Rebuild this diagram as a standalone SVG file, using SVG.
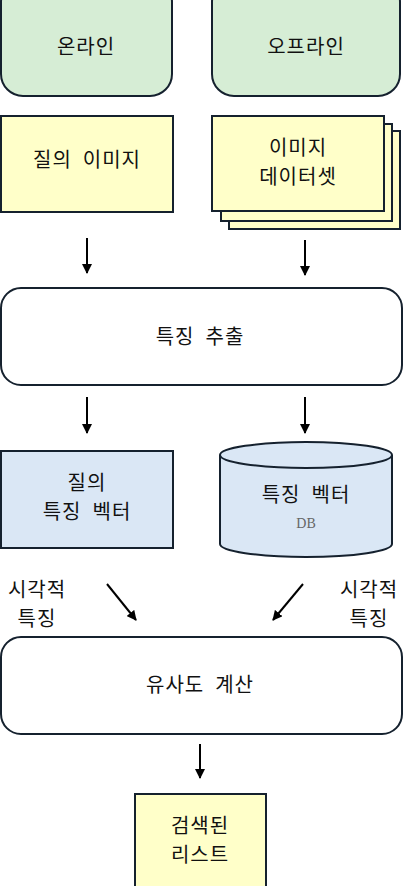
<svg xmlns="http://www.w3.org/2000/svg" width="404" height="886" viewBox="0 0 404 886">
<style>
.box{stroke:#15212e;stroke-width:2}
.green{fill:#d6edd5}
.yellow{fill:#ffffc9}
.blue{fill:#dae7f5}
.white{fill:#ffffff}
text{font-family:"Noto Sans CJK KR","DejaVu Sans",sans-serif;font-size:20px;letter-spacing:1px;fill:#111;text-anchor:middle;white-space:pre}
.conn{stroke:#000;stroke-width:2;fill:none;marker-end:url(#ah)}
</style>
<defs>
<marker id="ah" viewBox="0 0 10 10" refX="9" refY="5" markerWidth="5" markerHeight="5" orient="auto" markerUnits="strokeWidth">
<path d="M0,0 L10,5 L0,10 z" fill="#000"/>
</marker>
</defs>
<rect width="404" height="886" fill="#fff"/>
<g id="online">
<rect class="box green" x="1" y="-20" width="171" height="116" rx="22"/>
<text x="86" y="54">온라인</text>
</g>
<g id="offline">
<rect class="box green" x="212" y="-20" width="188" height="116" rx="22"/>
<text x="306" y="54">오프라인</text>
</g>
<g id="query-image">
<rect class="box yellow" x="1" y="116" width="172" height="96"/>
<text x="87" y="167" xml:space="preserve">질의  이미지</text>
</g>
<g id="image-dataset">
<rect class="box yellow" x="229" y="131" width="171" height="98"/>
<rect class="box yellow" x="221" y="124" width="171" height="97"/>
<rect class="box yellow" x="212" y="116" width="172" height="95"/>
<text x="298" y="155">이미지</text>
<text x="298" y="184">데이터셋</text>
</g>
<g id="feature-extraction">
<rect class="box white" x="1" y="288" width="401" height="97" rx="20"/>
<text x="200" y="344" xml:space="preserve">특징  추출</text>
</g>
<g id="query-feature">
<rect class="box blue" x="1" y="451" width="172" height="97"/>
<text x="87" y="490">질의</text>
<text x="87" y="519" xml:space="preserve">특징  벡터</text>
</g>
<g id="feature-db">
<path class="box blue" d="M220,455 A86,13 0 0 1 392,455 V544 A86,13 0 0 1 220,544 Z"/>
<path class="box" fill="none" d="M220,455 A86,13 0 0 0 392,455"/>
<text x="306" y="502" xml:space="preserve">특징  벡터</text>
<text x="306" y="528" style="font-size:14px;fill:#666;letter-spacing:0;font-family:'Liberation Serif',serif">DB</text>
</g>
<g id="labels">
<text x="37" y="597">시각적</text>
<text x="37" y="626">특징</text>
<text x="369" y="597">시각적</text>
<text x="369" y="626">특징</text>
</g>
<g id="similarity">
<rect class="box white" x="1" y="637" width="401" height="97" rx="20"/>
<text x="200" y="692" xml:space="preserve">유사도  계산</text>
</g>
<g id="result">
<rect class="box yellow" x="135" y="794" width="131" height="100"/>
<text x="200" y="833">검색된</text>
<text x="200" y="862">리스트</text>
</g>
<g id="connectors">
<line class="conn" x1="87" y1="238" x2="87" y2="273"/>
<line class="conn" x1="305" y1="240" x2="305" y2="275"/>
<line class="conn" x1="87" y1="397" x2="87" y2="433"/>
<line class="conn" x1="305" y1="397" x2="305" y2="433"/>
<line class="conn" x1="107" y1="584" x2="136" y2="620"/>
<line class="conn" x1="303" y1="584" x2="273" y2="620"/>
<line class="conn" x1="200" y1="744" x2="200" y2="778"/>
</g>
</svg>
